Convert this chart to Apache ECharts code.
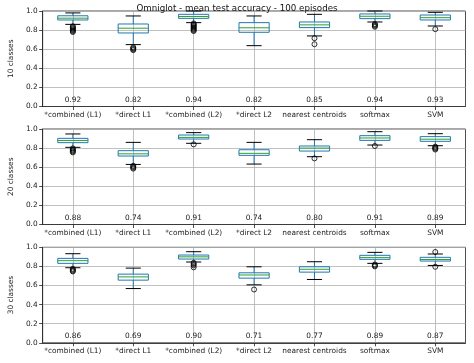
<!DOCTYPE html>
<html>
<head>
<meta charset="utf-8">
<script src="https://cdn.jsdelivr.net/npm/echarts@6/dist/echarts.min.js"></script>
<style>html,body{margin:0;padding:0;background:#fff}#c{width:474px;height:363px}</style>
</head>
<body>
<div id="c"></div>
<script>
const categories = ['*combined (L1)', '*direct L1', '*combined (L2)', '*direct L2', 'nearest centroids', 'softmax', 'SVM'];
const panelNames = ['10 classes', '20 classes', '30 classes'];
const titleText = 'Omniglot - mean test accuracy - 100 episodes';

// [lowerWhisker, Q1, median, Q3, upperWhisker]
const box10 = [
  [0.86, 0.906, 0.925, 0.95, 0.98],
  [0.648, 0.77, 0.82, 0.864, 0.948],
  [0.878, 0.923, 0.942, 0.965, 1.0],
  [0.637, 0.777, 0.824, 0.878, 0.948],
  [0.739, 0.826, 0.855, 0.885, 0.965],
  [0.885, 0.92, 0.945, 0.969, 1.0],
  [0.843, 0.906, 0.93, 0.958, 0.986]
];
const box20 = [
  [0.808, 0.857, 0.88, 0.902, 0.948],
  [0.629, 0.717, 0.74, 0.773, 0.86],
  [0.85, 0.895, 0.912, 0.937, 0.962],
  [0.633, 0.724, 0.745, 0.783, 0.86],
  [0.71, 0.769, 0.8, 0.822, 0.888],
  [0.832, 0.881, 0.906, 0.93, 0.972],
  [0.825, 0.871, 0.893, 0.92, 0.951]
];
const box30 = [
  [0.786, 0.832, 0.86, 0.884, 0.933],
  [0.568, 0.656, 0.69, 0.719, 0.782],
  [0.846, 0.877, 0.9, 0.919, 0.954],
  [0.607, 0.677, 0.71, 0.733, 0.796],
  [0.663, 0.74, 0.77, 0.796, 0.849],
  [0.832, 0.874, 0.892, 0.916, 0.947],
  [0.81, 0.856, 0.872, 0.895, 0.93]
];
// outliers: [categoryIndex, value]
const out10 = [
  [0, 0.84], [0, 0.83], [0, 0.82], [0, 0.81], [0, 0.80], [0, 0.79], [0, 0.78],
  [1, 0.62], [1, 0.61], [1, 0.60], [1, 0.59],
  [2, 0.87], [2, 0.86], [2, 0.85], [2, 0.84], [2, 0.83], [2, 0.82], [2, 0.81], [2, 0.80], [2, 0.79],
  [4, 0.715], [4, 0.652],
  [5, 0.864], [5, 0.855], [5, 0.845], [5, 0.835],
  [6, 0.81]
];
const out20 = [
  [0, 0.797], [0, 0.785], [0, 0.775], [0, 0.765], [0, 0.755],
  [1, 0.615], [1, 0.605], [1, 0.595], [1, 0.585],
  [2, 0.839],
  [4, 0.692],
  [5, 0.822],
  [6, 0.815], [6, 0.805], [6, 0.795], [6, 0.785]
];
const out30 = [
  [0, 0.775], [0, 0.765], [0, 0.755], [0, 0.747],
  [2, 0.838], [2, 0.825], [2, 0.81], [2, 0.79],
  [3, 0.558],
  [5, 0.82], [5, 0.81], [5, 0.8],
  [6, 0.951], [6, 0.796]
];
const meanLabels10 = ['0.92', '0.82', '0.94', '0.82', '0.85', '0.94', '0.93'];
const meanLabels20 = ['0.88', '0.74', '0.91', '0.74', '0.80', '0.91', '0.89'];
const meanLabels30 = ['0.86', '0.69', '0.90', '0.71', '0.77', '0.89', '0.87'];

const boxes = [box10, box20, box30];
const outs = [out10, out20, out30];
const meanLabels = [meanLabels10, meanLabels20, meanLabels30];

const FONT = 'DejaVu Sans';
const FS = 7.4;
const BLUE = '#1f77b4', GREEN = '#2ca02c', GRIDC = '#b0b0b0';
const LABEL_Y = 0.072;
const tops = [11, 129, 247.3];

function makeRenderItem(labels) {
  return function (params, api) {
    const x = api.value(0);
    const band = api.size([1, 0])[0];
    const bw = band * 0.25, cw = band * 0.125;
    const pLow = api.coord([x, api.value(1)]);
    const pQ1 = api.coord([x, api.value(2)]);
    const pMed = api.coord([x, api.value(3)]);
    const pQ3 = api.coord([x, api.value(4)]);
    const pHigh = api.coord([x, api.value(5)]);
    const pLab = api.coord([x, LABEL_Y]);
    const cx = pLow[0];
    const lineS = (c) => ({ stroke: c, lineWidth: 1, fill: null });
    return {
      type: 'group',
      children: [
        { type: 'line', shape: { x1: cx, y1: pLow[1], x2: cx, y2: pQ1[1] }, style: lineS(BLUE) },
        { type: 'line', shape: { x1: cx, y1: pQ3[1], x2: cx, y2: pHigh[1] }, style: lineS(BLUE) },
        { type: 'line', shape: { x1: cx - cw, y1: pLow[1], x2: cx + cw, y2: pLow[1] }, style: lineS('#000') },
        { type: 'line', shape: { x1: cx - cw, y1: pHigh[1], x2: cx + cw, y2: pHigh[1] }, style: lineS('#000') },
        { type: 'rect', shape: { x: cx - bw, y: pQ3[1], width: 2 * bw, height: pQ1[1] - pQ3[1] }, style: { stroke: BLUE, lineWidth: 1, fill: 'rgba(255,255,255,0)' } },
        { type: 'line', shape: { x1: cx - bw, y1: pMed[1], x2: cx + bw, y2: pMed[1] }, style: lineS(GREEN) },
        { type: 'text', x: cx, y: pLab[1], style: { text: labels[params.dataIndex], fill: '#222', font: FS + 'px "' + FONT + '"', align: 'center', verticalAlign: 'middle' } }
      ]
    };
  };
}

const grids = [], xAxes = [], yAxes = [], series = [];
for (let p = 0; p < 3; p++) {
  grids.push({ left: 35, width: 430.5, top: tops[p], height: 95.5, show: true, borderColor: '#222', borderWidth: 0.8, backgroundColor: 'transparent' });
  xAxes.push({
    type: 'category', gridIndex: p, data: categories, boundaryGap: true,
    axisLine: { show: true, lineStyle: { color: '#222', width: 0.8 } },
    axisTick: { show: true, alignWithLabel: true, length: 3.5, lineStyle: { color: '#222', width: 0.8 } },
    axisLabel: { show: true, interval: 0, margin: 5, fontFamily: FONT, fontSize: FS, color: '#222' },
    splitLine: { show: true, alignWithLabel: true, lineStyle: { color: GRIDC, width: 0.8 } }
  });
  yAxes.push({
    type: 'value', gridIndex: p, min: 0, max: 1, interval: 0.2,
    name: panelNames[p], nameLocation: 'middle', nameGap: 19,
    nameTextStyle: { fontFamily: FONT, fontSize: FS, color: '#222' },
    axisLine: { show: true, lineStyle: { color: '#222', width: 0.8 } },
    axisTick: { show: true, length: 3.5, lineStyle: { color: '#222', width: 0.8 } },
    axisLabel: { margin: 5, fontFamily: FONT, fontSize: FS, color: '#222', formatter: v => v.toFixed(1) },
    splitLine: { show: true, lineStyle: { color: GRIDC, width: 0.8 } }
  });
  const data = boxes[p].map((b, i) => [i, b[0], b[1], b[2], b[3], b[4]]);
  series.push({
    type: 'custom', xAxisIndex: p, yAxisIndex: p, renderItem: makeRenderItem(meanLabels[p]), data: data,
    encode: { x: 0, y: [1, 2, 3, 4, 5] }, silent: true, clip: false, z: 2
  });
  series.push({
    type: 'scatter', xAxisIndex: p, yAxisIndex: p, data: outs[p], symbol: 'circle', symbolSize: 5,
    itemStyle: { color: 'rgba(255,255,255,0)', borderColor: '#000', borderWidth: 1 }, silent: true, z: 3
  });
}

const chart = echarts.init(document.getElementById('c'), null, { renderer: 'canvas' });
chart.setOption({
  animation: false,
  backgroundColor: '#fff',
  title: { text: titleText, left: 'center', top: -0.5, textStyle: { fontFamily: FONT, fontSize: 8.7, fontWeight: 'normal', color: '#111' } },
  grid: grids, xAxis: xAxes, yAxis: yAxes, series: series
});
</script>
</body>
</html>
